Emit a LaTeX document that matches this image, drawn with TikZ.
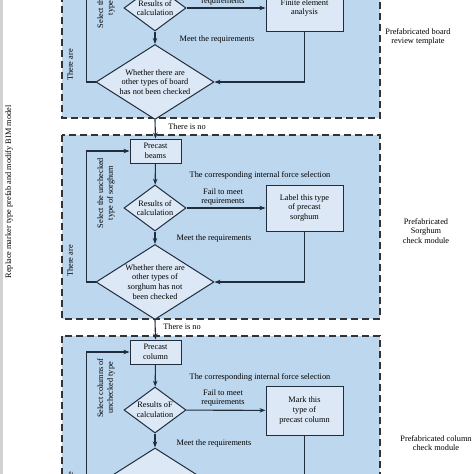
\documentclass[tikz,border=0pt]{standalone}
\usepackage{fontspec}
\setmainfont{Liberation Serif}
\usetikzlibrary{arrows.meta,shapes.geometric}
\definecolor{PanelBlue}{HTML}{BDD7EE}
\definecolor{NodeBlue}{HTML}{DCE8F5}
\definecolor{LineNavy}{HTML}{1F2D3D}
\definecolor{DashGray}{HTML}{333333}

\begin{document}
\begin{tikzpicture}[x=1pt,y=-1pt,
  font=\fontsize{8.3}{9.7}\selectfont,
  panel/.style={fill=PanelBlue,draw=DashGray,line width=1.3pt,
                dash pattern=on 7pt off 4pt},
  procbox/.style={rectangle,draw=LineNavy,fill=NodeBlue,line width=1pt,
                  align=center,inner sep=2pt,minimum width=77pt},
  check/.style={diamond,draw=LineNavy,fill=NodeBlue,line width=1pt,
                align=center,inner sep=0pt},
  arrow/.style={-{Stealth[length=6pt,width=4.5pt]},LineNavy,line width=1.1pt},
  link/.style={LineNavy,line width=1.1pt},
  note/.style={align=center,inner sep=0pt},
  side/.style={align=center,inner sep=0pt,rotate=90}
]
  \useasboundingbox (0,0) rectangle (474,474);
  \clip (0,0) rectangle (474,474);

  % module panels
  \draw[panel] (62,-60) rectangle (380,118);
  \draw[panel] (62,135) rectangle (380,319);
  \draw[panel] (62,336) rectangle (380,540);

  \fill[gray!35] (0,-5) rectangle (3,480);
  \node[side] (bimnote) at (9,192) {Replace marker type prefab and modify BIM model};

  % board module
  \node[check,aspect=1.35,minimum width=62pt,minimum height=46pt] (resboard) at (155,8) {Results of\\calculation};
  \node[check,aspect=1.57,minimum width=118pt,minimum height=75pt] (chkboard) at (155,82) {Whether there are\\other types of board\\has not been checked};
  \node[procbox,minimum height=46pt] (feaboard) at (304.5,8) {Finite element\\analysis};
  \node[note] (failboard) at (223,-3) {Fail to meet\\requirements};
  \node[note] (meetboard) at (217,40) {Meet the requirements};
  \node[side] (thereboard) at (70,65) {There are};
  \node[side] (selboard) at (106,-7) {Select the unchecked\\type of board};
  \node[note] (modboard) at (418,37) {Prefabricated board\\review template};
  \draw[arrow] (resboard) -- (chkboard);
  \draw[arrow] (resboard) -- (feaboard);
  \draw[arrow] (feaboard.south) |- (chkboard.east);
  \draw[link] (chkboard.west) -- ++(-9,0) -- ++(0,-150);

  % sorghum module
  \node[procbox,minimum width=51pt,minimum height=24pt] (beams) at (155.5,151) {Precast\\beams};
  \node[check,aspect=1.35,minimum width=62pt,minimum height=46pt] (resbeam) at (155,208) {Results of\\calculation};
  \node[check,aspect=1.57,minimum width=118pt,minimum height=75pt] (chkbeam) at (155,282) {Whether there are\\other types of\\sorghum has not\\been checked};
  \node[procbox,minimum height=46pt] (labelbeam) at (304.5,208) {Label this type\\of precast\\sorghum};
  \node[note] (forcebeam) at (260,175) {The corresponding internal force selection};
  \node[note] (failbeam) at (223,197) {Fail to meet\\requirements};
  \node[note] (meetbeam) at (214,239) {Meet the requirements};
  \node[side] (therebeam) at (70,261) {There are};
  \node[side] (selbeam) at (106,193) {Select the unchecked\\type of sorghum};
  \node[note] (modbeam) at (426,231) {Prefabricated\\Sorghum\\check module};
  \node[note] (noboard) at (187,127) {There is no};
  \draw[arrow] (chkboard.south) -- (beams.north);
  \draw[arrow] (beams) -- (resbeam);
  \draw[arrow] (resbeam) -- (chkbeam);
  \draw[arrow] (resbeam) -- (labelbeam);
  \draw[arrow] (labelbeam.south) |- (chkbeam.east);
  \draw[arrow] (chkbeam.west) -- ++(-9,0) |- (beams.west);

  % column module
  \node[procbox,minimum width=51pt,minimum height=24pt] (column) at (155.5,352) {Precast\\column};
  \node[check,aspect=1.35,minimum width=62pt,minimum height=46pt] (rescol) at (155,410) {Results oF\\calculation};
  \node[check,aspect=1.57,minimum width=118pt,minimum height=75pt] (chkcol) at (155,485.5) {};
  \node[procbox,minimum height=49pt] (markcol) at (304.5,410.5) {Mark this\\type of\\precast column};
  \node[note] (forcecol) at (260,377) {The corresponding internal force selection};
  \node[note] (failcol) at (223,398) {Fail to meet\\requirements};
  \node[note] (meetcol) at (214,443) {Meet the requirements};
  \node[side] (therecol) at (70,488) {There are};
  \node[side] (selcol) at (106,388) {Select columns of\\unchecked type};
  \node[note] (modcol) at (436,443) {Prefabricated column\\check module};
  \node[note] (nobeam) at (182,327) {There is no};
  \draw[arrow] (chkbeam.south) -- (column.north);
  \draw[arrow] (column) -- (rescol);
  \draw[arrow] (rescol) -- (chkcol);
  \draw[arrow] (rescol) -- (markcol);
  \draw[arrow] (markcol.south) |- (chkcol.east);
  \draw[arrow] (chkcol.west) -- ++(-9,0) |- (column.west);
\end{tikzpicture}
\end{document}
